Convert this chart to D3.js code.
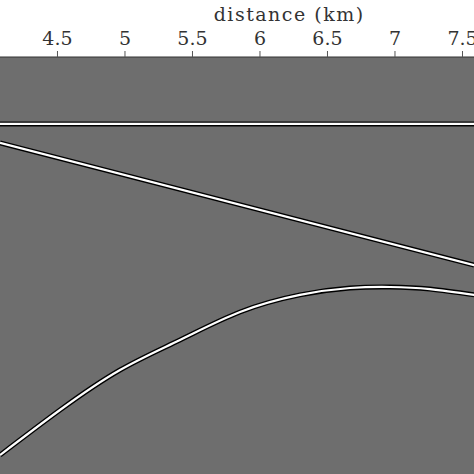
<!DOCTYPE html><html><head><script src="https://cdn.jsdelivr.net/npm/d3@7"></script>
<style>body{margin:0;background:#fff}</style></head><body><svg id="c" width="474" height="474"></svg>
<script>
const xTicks=[4.5,5,5.5,6,6.5,7,7.5];
const flatX=[4.078,7.59], flatZ=[0.321,0.321];
const dipX=[4.078,7.59], dipZ=[0.412,0.998];
const curveX=[4.078,4.522,4.967,5.411,5.856,6.3,6.67,6.967,7.263,7.59];
const curveZ=[1.909,1.693,1.501,1.357,1.223,1.141,1.108,1.103,1.113,1.141];
const svg=d3.select("#c");
const x=d3.scaleLinear().domain([4.078,7.589]).range([0,474]);
const y=d3.scaleLinear().domain([0,2]).range([57,474]);
svg.append("rect").attr("x",0).attr("y",57).attr("width",474).attr("height",417).attr("fill","#6e6e6e");
const line=d3.line().x(d=>x(d[0])).y(d=>y(d[1])).curve(d3.curveNatural);
[[flatX,flatZ],[dipX,dipZ],[curveX,curveZ]].forEach(([a,b])=>{
  const pts=a.map((v,i)=>[v,b[i]]);
  svg.append("path").attr("d",line(pts)).attr("fill","none").attr("stroke","#000").attr("stroke-width",5);
  svg.append("path").attr("d",line(pts)).attr("fill","none").attr("stroke","#fff").attr("stroke-width",2.2);
});
svg.append("line").attr("x1",0).attr("x2",474).attr("y1",57).attr("y2",57).attr("stroke","#333").attr("stroke-width",1);
const ax=svg.append("g").attr("transform","translate(0,57)").call(d3.axisTop(x).tickValues(xTicks).tickSize(6).tickPadding(6).tickFormat(d3.format("")));
ax.select(".domain").remove();
ax.selectAll("line").attr("stroke","#555");
ax.selectAll("text").attr("font-family","DejaVu Serif").attr("font-size",19).attr("font-weight",300).attr("fill","#333");
svg.append("text").attr("x",x(6.22)).attr("y",21).attr("text-anchor","middle").attr("font-family","DejaVu Serif").attr("font-size",19).attr("letter-spacing",1.5).attr("fill","#333").text("distance (km)");
</script></body></html>
